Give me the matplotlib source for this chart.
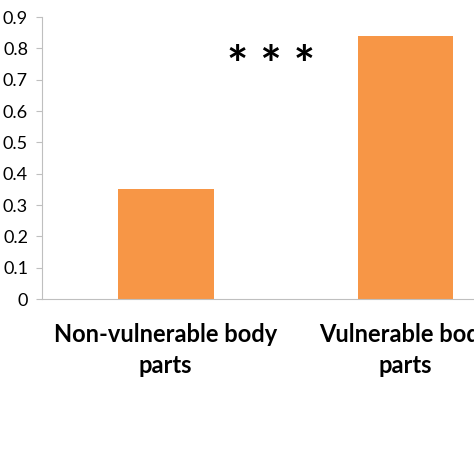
import matplotlib
matplotlib.use('Agg')
from matplotlib import pyplot as plt

# data
categories = ['Non-vulnerable body\nparts', 'Vulnerable body\nparts']
values = [0.35, 0.84]
y_ticks = [0, 0.1, 0.2, 0.3, 0.4, 0.5, 0.6, 0.7, 0.8, 0.9]
signif = '* * *'

plt.rcParams['font.family'] = ['Lato', 'DejaVu Sans']

fig = plt.figure(figsize=(4.74, 4.74), dpi=100)
# axes run off the right edge, like the cropped original
ax = fig.add_axes([0.0886, 0.369, 1.02, 0.595])

ax.bar(range(len(categories)), values, width=0.4, color='#F79646')
ax.set_xlim(-0.515, 1.5)
ax.set_ylim(0, 0.9)
ax.set_yticks(y_ticks)
ax.set_yticklabels([f'{t:g}' for t in y_ticks], fontsize=13)
ax.set_xticks(range(len(categories)))
ax.set_xticklabels(categories, fontsize=17, fontweight='bold', linespacing=1.45)
ax.tick_params(axis='x', length=0, pad=17)
ax.tick_params(axis='y', length=4, color='#bfbfbf', pad=6)

for side in ['top', 'right']:
    ax.spines[side].set_visible(False)
for side in ['left', 'bottom']:
    ax.spines[side].set_color('#bfbfbf')

ax.text(0.44, 0.74, signif, ha='center', va='center', fontsize=36, fontweight='bold')

fig.savefig('out.png', dpi=100)
